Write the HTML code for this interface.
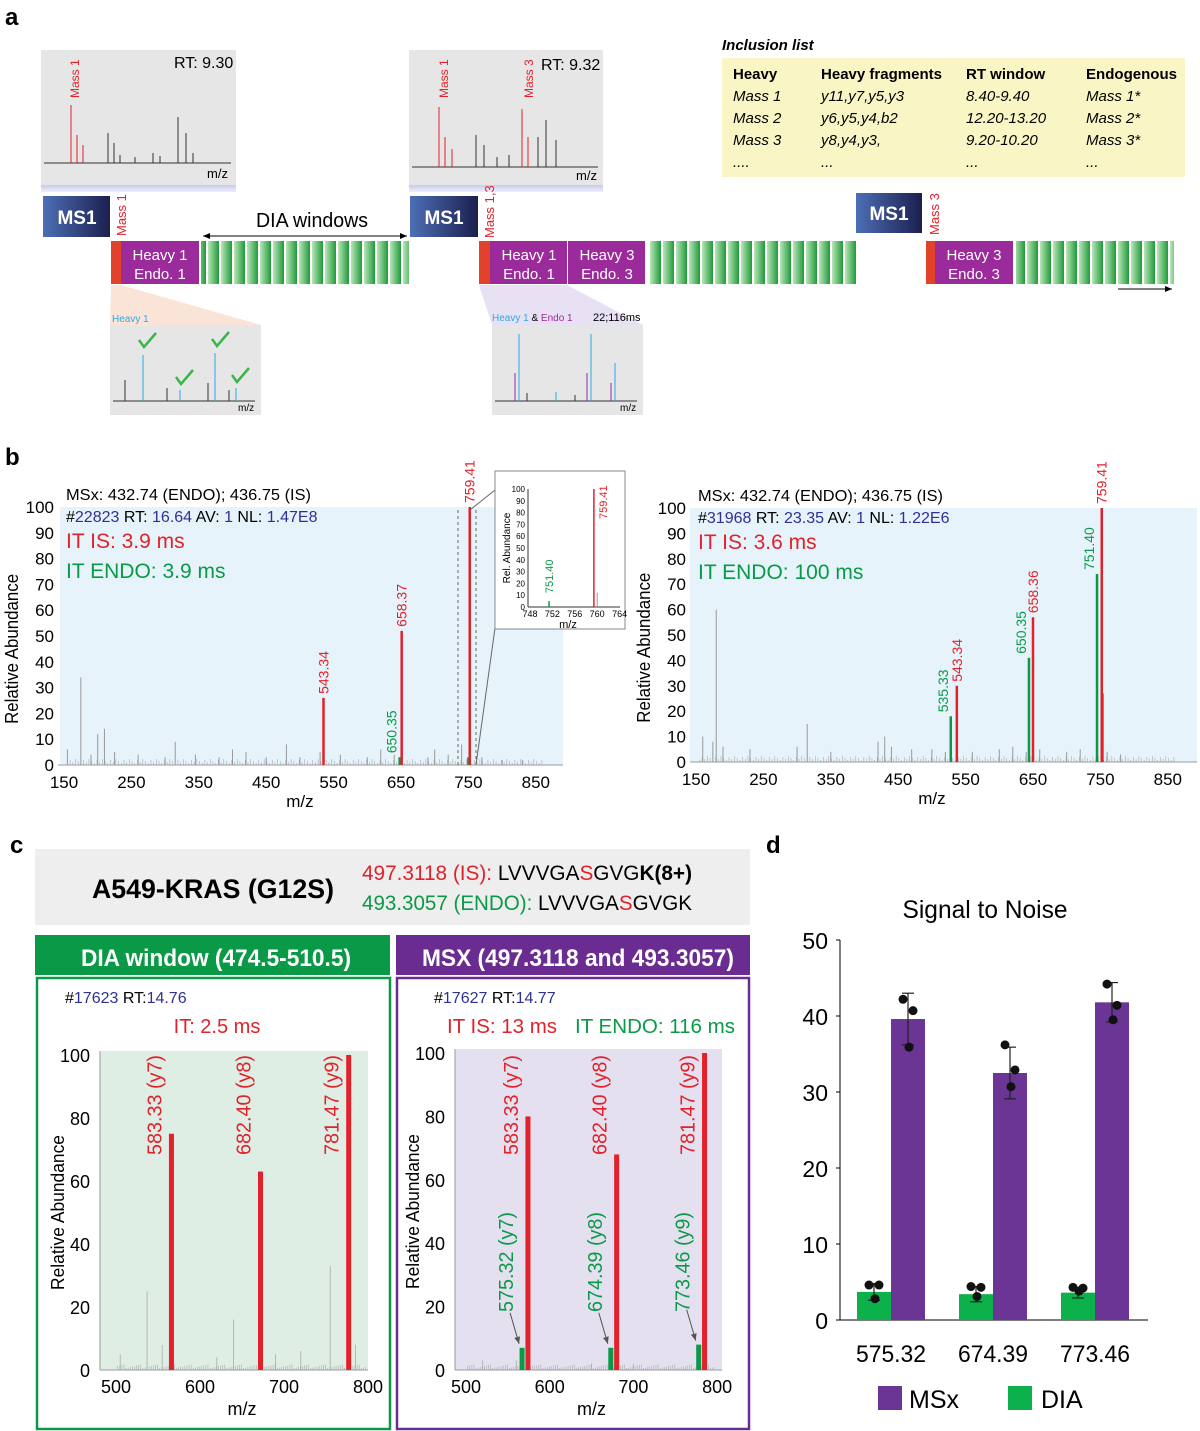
<!DOCTYPE html>
<html><head><meta charset="utf-8"><style>
body{margin:0;background:#fff}
svg{display:block;font-family:"Liberation Sans Narrow","Liberation Sans",sans-serif}
</style></head><body>
<svg id="s" width="1200" height="1431" viewBox="0 0 1200 1431" xmlns="http://www.w3.org/2000/svg">
<defs>
<linearGradient id="ms1" x1="0" x2="1"><stop offset="0" stop-color="#4d6fb5"/><stop offset="1" stop-color="#1b1f4f"/></linearGradient>
<linearGradient id="grn" x1="0" x2="1"><stop offset="0" stop-color="#b8e6b8"/><stop offset="1" stop-color="#1f9a3a"/></linearGradient>
<linearGradient id="band" x1="0" x2="0" y1="0" y2="1"><stop offset="0" stop-color="#c9c9ea"/><stop offset="1" stop-color="#eef"/></linearGradient>
<pattern id="stripes" width="13" height="44" patternUnits="userSpaceOnUse"><rect width="11" height="44" fill="url(#grn)"/></pattern>
<marker id="ah" markerWidth="8" markerHeight="8" refX="7" refY="4" orient="auto"><path d="M0,1 L7,4 L0,7 z" fill="#000"/></marker>
<marker id="ahg" markerWidth="8" markerHeight="8" refX="7" refY="4" orient="auto"><path d="M0,1 L7,4 L0,7 z" fill="#555"/></marker>
</defs>

<!-- Panel a -->
<text x="5" y="25" font-size="24" font-weight="bold">a</text>
<g>
<rect x="41" y="50" width="195" height="135" fill="#e6e6e6"/>
<text x="174" y="68" font-size="16">RT: 9.30</text>
<text transform="translate(79,98) rotate(-90)" font-size="12" fill="#e2212a">Mass 1</text>
<line x1="44" y1="163" x2="231" y2="163" stroke="#333"/>
<text x="207" y="178" font-size="13">m/z</text>
<g stroke="#333"><line x1="108" y1="163" x2="108" y2="133"/><line x1="114" y1="163" x2="114" y2="143"/><line x1="120" y1="163" x2="120" y2="155"/><line x1="135" y1="163" x2="135" y2="157"/><line x1="153" y1="163" x2="153" y2="153"/><line x1="160" y1="163" x2="160" y2="156"/><line x1="178" y1="163" x2="178" y2="117"/><line x1="186" y1="163" x2="186" y2="133"/><line x1="193" y1="163" x2="193" y2="153"/></g>
<g stroke="#e2212a"><line x1="71" y1="163" x2="71" y2="105"/><line x1="77" y1="163" x2="77" y2="135"/><line x1="83" y1="163" x2="83" y2="145"/></g>
<rect x="41" y="185" width="195" height="7" fill="url(#band)"/>
</g>
<g>
<rect x="409" y="50" width="194" height="135" fill="#e6e6e6"/>
<text x="541" y="70" font-size="16">RT: 9.32</text>
<text transform="translate(448,98) rotate(-90)" font-size="12" fill="#e2212a">Mass 1</text>
<text transform="translate(533,98) rotate(-90)" font-size="12" fill="#e2212a">Mass 3</text>
<line x1="412" y1="167" x2="598" y2="167" stroke="#333"/>
<text x="576" y="180" font-size="13">m/z</text>
<g stroke="#e2212a"><line x1="439" y1="167" x2="439" y2="107"/><line x1="445" y1="167" x2="445" y2="137"/><line x1="452" y1="167" x2="452" y2="149"/><line x1="522" y1="167" x2="522" y2="109"/><line x1="528" y1="167" x2="528" y2="137"/></g>
<g stroke="#333"><line x1="476" y1="167" x2="476" y2="135"/><line x1="484" y1="167" x2="484" y2="145"/><line x1="497" y1="167" x2="497" y2="157"/><line x1="509" y1="167" x2="509" y2="155"/><line x1="538" y1="167" x2="538" y2="137"/><line x1="546" y1="167" x2="546" y2="120"/><line x1="556" y1="167" x2="556" y2="140"/></g>
<rect x="409" y="185" width="194" height="7" fill="url(#band)"/>
</g>
<g>
<text x="722" y="50" font-size="15" font-style="italic" font-weight="bold">Inclusion list</text>
<rect x="722" y="58" width="463" height="119" fill="#faf5c4"/>
<g font-size="15" font-weight="bold"><text x="733" y="79">Heavy</text><text x="821" y="79" textLength="121" lengthAdjust="spacingAndGlyphs">Heavy fragments</text><text x="966" y="79">RT window</text><text x="1086" y="79" textLength="91" lengthAdjust="spacingAndGlyphs">Endogenous</text></g>
<g font-size="15" font-style="italic">
<text x="733" y="101">Mass 1</text><text x="821" y="101">y11,y7,y5,y3</text><text x="966" y="101">8.40-9.40</text><text x="1086" y="101">Mass 1*</text>
<text x="733" y="123">Mass 2</text><text x="821" y="123">y6,y5,y4,b2</text><text x="966" y="123">12.20-13.20</text><text x="1086" y="123">Mass 2*</text>
<text x="733" y="145">Mass 3</text><text x="821" y="145">y8,y4,y3,</text><text x="966" y="145">9.20-10.20</text><text x="1086" y="145">Mass 3*</text>
<text x="733" y="167">....</text><text x="821" y="167">...</text><text x="966" y="167">...</text><text x="1086" y="167">...</text></g>
</g>
<g>
<rect x="43" y="196" width="67" height="41" fill="url(#ms1)"/><text x="77" y="224" font-size="19" font-weight="bold" fill="#fff" text-anchor="middle">MS1</text>
<text transform="translate(126,236) rotate(-90)" font-size="13" fill="#e2212a">Mass 1</text>
<rect x="111" y="241" width="10" height="43" fill="#e2412a"/>
<rect x="121" y="241" width="78" height="43" fill="#9b2a9b"/><text x="160" y="260" font-size="15" fill="#fff" text-anchor="middle">Heavy 1</text><text x="160" y="279" font-size="15" fill="#fff" text-anchor="middle">Endo. 1</text>
<rect x="201" y="241" width="208" height="43" fill="url(#stripes)"/>
<text x="312" y="227" font-size="20" text-anchor="middle" textLength="112" lengthAdjust="spacingAndGlyphs">DIA windows</text>
<line x1="205" y1="236" x2="407" y2="236" stroke="#000" marker-end="url(#ah)"/><line x1="405" y1="236" x2="203" y2="236" stroke="#000" marker-end="url(#ah)"/>
<rect x="410" y="196" width="68" height="41" fill="url(#ms1)"/><text x="444" y="224" font-size="19" font-weight="bold" fill="#fff" text-anchor="middle">MS1</text>
<text transform="translate(494,238) rotate(-90)" font-size="13" fill="#e2212a">Mass 1,3</text>
<rect x="479" y="241" width="11" height="43" fill="#e2412a"/>
<rect x="490" y="241" width="77" height="43" fill="#9b2a9b"/><text x="529" y="260" font-size="15" fill="#fff" text-anchor="middle">Heavy 1</text><text x="529" y="279" font-size="15" fill="#fff" text-anchor="middle">Endo. 1</text>
<rect x="568" y="241" width="77" height="43" fill="#9b2a9b"/><text x="607" y="260" font-size="15" fill="#fff" text-anchor="middle">Heavy 3</text><text x="607" y="279" font-size="15" fill="#fff" text-anchor="middle">Endo. 3</text>
<rect x="648" y="241" width="208" height="43" fill="url(#stripes)"/>
<rect x="856" y="193" width="66" height="40" fill="url(#ms1)"/><text x="889" y="220" font-size="19" font-weight="bold" fill="#fff" text-anchor="middle">MS1</text>
<text transform="translate(939,235) rotate(-90)" font-size="13" fill="#e2212a">Mass 3</text>
<rect x="926" y="241" width="9" height="43" fill="#e2412a"/>
<rect x="935" y="241" width="78" height="43" fill="#9b2a9b"/><text x="974" y="260" font-size="15" fill="#fff" text-anchor="middle">Heavy 3</text><text x="974" y="279" font-size="15" fill="#fff" text-anchor="middle">Endo. 3</text>
<rect x="1016" y="241" width="158" height="43" fill="url(#stripes)"/>
<line x1="1118" y1="289" x2="1172" y2="289" stroke="#000" marker-end="url(#ah)"/>
<polygon points="111,285 121,285 261,325 110,325" fill="#f8d8c8" opacity="0.7"/>
<polygon points="479,285 567,285 643,325 492,325" fill="#ddd4ee" opacity="0.7"/>
</g>
<g>
<text x="112" y="322" font-size="10" fill="#29abe2">Heavy 1</text>
<rect x="110" y="325" width="151" height="90" fill="#e6e6e6"/>
<line x1="113" y1="401" x2="255" y2="401" stroke="#333"/><text x="238" y="411" font-size="10">m/z</text>
<g stroke="#333"><line x1="125" y1="401" x2="125" y2="380"/><line x1="167" y1="401" x2="167" y2="388"/><line x1="208" y1="401" x2="208" y2="383"/><line x1="229" y1="401" x2="229" y2="390"/></g>
<g stroke="#29abe2"><line x1="143" y1="401" x2="143" y2="355"/><line x1="180" y1="401" x2="180" y2="390"/><line x1="215" y1="401" x2="215" y2="353"/><line x1="236" y1="401" x2="236" y2="388"/></g>
<g stroke="#39b54a" stroke-width="2.5" fill="none"><path d="M139,340 l5,7 l12,-14"/><path d="M176,377 l5,7 l12,-14"/><path d="M212,339 l5,7 l12,-14"/><path d="M232,375 l5,7 l12,-14"/></g>
</g>
<g>
<text x="492" y="321" font-size="10"><tspan fill="#29abe2">Heavy 1</tspan> &amp; <tspan fill="#9b2a9b">Endo 1</tspan></text>
<text x="593" y="321" font-size="11">22;116ms</text>
<rect x="492" y="325" width="151" height="90" fill="#e6e6e6"/>
<line x1="495" y1="401" x2="637" y2="401" stroke="#333"/><text x="620" y="411" font-size="10">m/z</text>
<g stroke="#29abe2"><line x1="519" y1="401" x2="519" y2="334"/><line x1="591" y1="401" x2="591" y2="334"/><line x1="615" y1="401" x2="615" y2="363"/><line x1="556" y1="401" x2="556" y2="392"/></g>
<g stroke="#9b2a9b"><line x1="515" y1="401" x2="515" y2="373"/><line x1="587" y1="401" x2="587" y2="373"/><line x1="611" y1="401" x2="611" y2="383"/></g>
<g stroke="#333"><line x1="527" y1="401" x2="527" y2="393"/><line x1="575" y1="401" x2="575" y2="395"/></g>
</g>

<!-- Panel b -->
<text x="5" y="465" font-size="24" font-weight="bold">b</text>
<g id="b1"></g>
<g id="b2"></g>
<g>
<line x1="458" y1="510" x2="458" y2="765" stroke="#666" stroke-dasharray="3,3"/><line x1="476" y1="510" x2="476" y2="765" stroke="#666" stroke-dasharray="3,3"/>
<line x1="470" y1="510" x2="495" y2="490" stroke="#666"/><line x1="476" y1="765" x2="495" y2="628" stroke="#666"/>
<rect x="495" y="471" width="130" height="158" fill="#fff" stroke="#888"/>
<g id="zin"></g>
</g>

<!-- Panel c -->
<text x="10" y="853" font-size="24" font-weight="bold">c</text>
<g>
<rect x="35" y="849" width="715" height="76" fill="#eeeeee"/>
<text x="213" y="898" font-size="27" font-weight="bold" text-anchor="middle" textLength="242" lengthAdjust="spacingAndGlyphs">A549-KRAS (G12S)</text>
<text x="362" y="880" font-size="21" textLength="330" lengthAdjust="spacingAndGlyphs"><tspan fill="#e2212a">497.3118 (IS): </tspan>LVVVGA<tspan fill="#e2212a">S</tspan>GVG<tspan font-weight="bold">K(8+)</tspan></text>
<text x="362" y="910" font-size="21" textLength="330" lengthAdjust="spacingAndGlyphs"><tspan fill="#0a9a47">493.3057 (ENDO): </tspan>LVVVGA<tspan fill="#e2212a">S</tspan>GVGK</text>
</g>
<rect x="35" y="935" width="355" height="40" fill="#0a9a47"/>
<text x="216" y="966" font-size="24" font-weight="bold" fill="#fff" text-anchor="middle" textLength="270" lengthAdjust="spacingAndGlyphs">DIA window (474.5-510.5)</text>
<rect x="396" y="935" width="354" height="40" fill="#6a2c91"/>
<text x="578" y="966" font-size="24" font-weight="bold" fill="#fff" text-anchor="middle" textLength="312" lengthAdjust="spacingAndGlyphs">MSX (497.3118 and 493.3057)</text>
<rect x="37" y="978" width="353" height="451" fill="none" stroke="#0a9a47" stroke-width="2.5"/>
<rect x="397" y="978" width="352" height="451" fill="none" stroke="#6a2c91" stroke-width="2.5"/>
<g id="c1"></g>
<g id="c2"></g>

<!-- Panel d -->
<text x="766" y="853" font-size="24" font-weight="bold">d</text>
<g id="d"></g>
</svg>
<script>
const NS='http://www.w3.org/2000/svg';
function el(p,t,a,txt){const e=document.createElementNS(NS,t);for(const k in a)e.setAttribute(k,a[k]);if(txt!==undefined)e.textContent=txt;p.appendChild(e);return e;}

// Panel b data
const bLeftNoiseMz=[155,175,190,200,210,225,260,300,315,345,380,400,420,450,480,500,530,560,600,620,640,690,700,720,740,770,800,830];
const bLeftNoiseI=[6,34,4,12,14,5,4,3,9,4,3,6,5,3,8,3,5,4,3,6,4,3,6,4,8,3,2,2];
const bLeftRedMz=[535,651,752];
const bLeftRedI=[26,52,100];
const bLeftRedLbl=['543.34','658.37','759.41'];
const bLeftGrnMz=[648,750];
const bLeftGrnI=[3,3];
const bLeftGrnLbl=['650.35',''];
const bRightNoiseMz=[160,175,180,190,230,300,315,350,420,430,440,470,500,520,560,600,620,640,660,700,720,760,780];
const bRightNoiseI=[10,8,60,6,5,6,15,4,8,10,6,5,5,4,4,5,6,4,5,4,5,4,3];
const bRightRedMz=[537,650,752,753];
const bRightRedI=[30,57,100,27];
const bRightRedLbl=['543.34','658.36','759.41',''];
const bRightGrnMz=[528,644,745];
const bRightGrnI=[18,41,74];
const bRightGrnLbl=['535.33','650.35','751.40'];
const bTicksX=[150,250,350,450,550,650,750,850];
const bTicksY=[0,10,20,30,40,50,60,70,80,90,100];

function specB(g,o){
  const X=m=>o.x0+(m-150)*o.sx, Y=v=>o.y0-v*o.sy;
  el(g,'rect',{x:o.bgx,y:Y(100),width:o.bgw,height:o.y0-Y(100),fill:'#e6f3fa'});
  el(g,'line',{x1:o.x0-6,y1:o.y0,x2:o.bgx+o.bgw,y2:o.y0,stroke:'#999'});
  bTicksY.forEach(v=>{const t=el(g,'text',{x:o.x0-10,y:Y(v)+6,'font-size':17,'text-anchor':'end'},v);});
  bTicksX.forEach(v=>{const t=el(g,'text',{x:X(v),y:o.y0+23,'font-size':17,'text-anchor':'middle'},v);});
  el(g,'text',{x:X(500),y:o.y0+42,'font-size':17,'text-anchor':'middle'},'m/z');
  el(g,'text',{transform:`translate(${o.x0-46},${Y(45)}) rotate(-90)`,'font-size':18,'text-anchor':'middle','textLength':150,'lengthAdjust':'spacingAndGlyphs'},'Relative Abundance');
  for(let m=155;m<860;m+=4){el(g,'line',{x1:X(m),y1:o.y0,x2:X(m),y2:o.y0-2-((m*7)%5),stroke:'#aaa','stroke-width':0.6});}
  o.nm.forEach((m,i)=>{const l=el(g,'line',{x1:X(m),y1:o.y0,x2:X(m),y2:Y(o.ni[i]),stroke:'#999','stroke-width':1});});
  o.gm.forEach((m,i)=>{const l=el(g,'line',{x1:X(m),y1:o.y0,x2:X(m),y2:Y(o.gi[i]),stroke:'#0a9a47','stroke-width':2.5});
    if(o.gl[i])el(g,'text',{transform:`translate(${X(m)-3},${Y(o.gi[i])-4}) rotate(-90)`,'font-size':14,fill:'#0a9a47'},o.gl[i]);});
  o.rm.forEach((m,i)=>{const l=el(g,'line',{x1:X(m),y1:o.y0,x2:X(m),y2:Y(o.ri[i]),stroke:'#e2212a','stroke-width':2.5});
    if(o.rl[i])el(g,'text',{transform:`translate(${X(m)+5},${Y(o.ri[i])-4}) rotate(-90)`,'font-size':14,fill:'#e2212a'},o.rl[i]);});
  el(g,'text',{x:o.x0+2,y:Y(100)-7,'font-size':16,'textLength':245,'lengthAdjust':'spacingAndGlyphs'},'MSx: 432.74 (ENDO); 436.75 (IS)');
  const t=el(g,'text',{x:o.x0+2,y:Y(100)+15,'font-size':16});
  t.innerHTML=`#<tspan fill="#2e3192">${o.scan}</tspan> RT: <tspan fill="#2e3192">${o.rt}</tspan>  AV: <tspan fill="#2e3192">1</tspan>   NL: <tspan fill="#2e3192">${o.nl}</tspan>`;
  el(g,'text',{x:o.x0+2,y:Y(100)+41,'font-size':21,fill:'#e2212a'},'IT IS: '+o.itis);
  el(g,'text',{x:o.x0+2,y:Y(100)+71,'font-size':21,fill:'#0a9a47'},'IT ENDO: '+o.itendo);
}
specB(document.getElementById('b1'),{x0:64,sx:0.674,y0:765,sy:2.58,bgx:60,bgw:503,nm:bLeftNoiseMz,ni:bLeftNoiseI,rm:bLeftRedMz,ri:bLeftRedI,rl:bLeftRedLbl,gm:bLeftGrnMz,gi:bLeftGrnI,gl:bLeftGrnLbl,scan:'22823',rt:'16.64',nl:'1.47E8',itis:'3.9 ms',itendo:'3.9 ms'});
specB(document.getElementById('b2'),{x0:696,sx:0.674,y0:762,sy:2.54,bgx:690,bgw:507,nm:bRightNoiseMz,ni:bRightNoiseI,rm:bRightRedMz,ri:bRightRedI,rl:bRightRedLbl,gm:bRightGrnMz,gi:bRightGrnI,gl:bRightGrnLbl,scan:'31968',rt:'23.35',nl:'1.22E6',itis:'3.6 ms',itendo:'100 ms'});

// zoom inset
const zinMz=[751.4,759.41,760];
const zinI=[5,100,12];
const zinTicks=[748,752,756,760,764];
(function(){const g=document.getElementById('zin');const X=m=>530+(m-748)*5.6,Y=v=>607-v*1.18;
 el(g,'line',{x1:528,y1:607,x2:620,y2:607,stroke:'#333'});el(g,'line',{x1:528,y1:607,x2:528,y2:489,stroke:'#333'});
 [0,10,20,30,40,50,60,70,80,90,100].forEach(v=>el(g,'text',{x:525,y:Y(v)+3,'font-size':8,'text-anchor':'end'},v));
 zinTicks.forEach(v=>el(g,'text',{x:X(v),y:617,'font-size':9,'text-anchor':'middle'},v));
 el(g,'text',{x:568,y:628,'font-size':11,'text-anchor':'middle'},'m/z');
 el(g,'text',{transform:'translate(510,548) rotate(-90)','font-size':10,'text-anchor':'middle'},'Rel. Abundance');
 el(g,'line',{x1:X(zinMz[0]),y1:607,x2:X(zinMz[0]),y2:Y(zinI[0]),stroke:'#0a9a47','stroke-width':1.5});
 el(g,'text',{transform:`translate(${X(zinMz[0])+4},${Y(zinI[0])-8}) rotate(-90)`,'font-size':11,fill:'#0a9a47'},'751.40');
 el(g,'line',{x1:X(zinMz[1]),y1:607,x2:X(zinMz[1]),y2:Y(zinI[1]),stroke:'#e2212a','stroke-width':1.5});
 el(g,'text',{transform:`translate(${X(zinMz[1])+13},${Y(zinI[1])+30}) rotate(-90)`,'font-size':11,fill:'#e2212a'},'759.41');
 el(g,'line',{x1:X(zinMz[2]),y1:607,x2:X(zinMz[2]),y2:Y(zinI[2]),stroke:'#999'});
})();

// Panel c
const cTicksX=[500,600,700,800];
const cTicksY=[0,20,40,60,80,100];
const cDiaRedMz=[566,672,777];
const cDiaRedI=[75,63,100];
const cDiaRedLbl=['583.33 (y7)','682.40 (y8)','781.47 (y9)'];
const cDiaNoiseMz=[505,537,555,620,640,690,720,755,785];
const cDiaNoiseI=[5,25,8,4,16,5,6,33,8];
const cMsxRedMz=[574,680,785];
const cMsxRedI=[80,68,100];
const cMsxRedLbl=['583.33 (y7)','682.40 (y8)','781.47 (y9)'];
const cMsxGrnMz=[567,673,778];
const cMsxGrnI=[7,7,8];
const cMsxGrnLbl=['575.32 (y7)','674.39 (y8)','773.46 (y9)'];
const cMsxNoiseMz=[520,560,650,700];
const cMsxNoiseI=[3,3,2,2];
function specC(g,o){
 const X=m=>o.x0+(m-500)*o.sx, Y=v=>o.y0-v*o.sy;
 el(g,'rect',{x:o.bgx,y:Y(100)-4,width:o.bgw,height:o.y0-Y(100)+4,fill:o.bg});
 el(g,'line',{x1:o.bgx,y1:o.y0,x2:o.bgx+o.bgw,y2:o.y0,stroke:'#999'});
 el(g,'line',{x1:o.bgx,y1:o.y0,x2:o.bgx,y2:Y(100)-4,stroke:'#999'});
 cTicksY.forEach(v=>el(g,'text',{x:o.bgx-10,y:Y(v)+7,'font-size':18,'text-anchor':'end'},v));
 cTicksX.forEach(v=>el(g,'text',{x:X(v),y:o.y0+23,'font-size':18,'text-anchor':'middle'},v));
 el(g,'text',{x:X(650),y:o.y0+45,'font-size':18,'text-anchor':'middle'},'m/z');
 el(g,'text',{transform:`translate(${o.bgx-36},${Y(50)}) rotate(-90)`,'font-size':18,'text-anchor':'middle','textLength':155,'lengthAdjust':'spacingAndGlyphs'},'Relative Abundance');
 for(let m=502;m<798;m+=2.5){el(g,'line',{x1:X(m),y1:o.y0,x2:X(m),y2:o.y0-2-((m*13)%4),stroke:'#aaa','stroke-width':0.6});}
 o.nm.forEach((m,i)=>el(g,'line',{x1:X(m),y1:o.y0,x2:X(m),y2:Y(o.ni[i]),stroke:'#aaa','stroke-width':0.8}));
 o.rm.forEach((m,i)=>{const r=el(g,'rect',{x:X(m)-2.5,y:Y(o.ri[i]),width:5,height:o.y0-Y(o.ri[i]),fill:'#e2212a'});
  el(g,'text',{transform:`translate(${X(m)-10},1105) rotate(-90)`,'font-size':20,fill:'#e2212a','text-anchor':'middle','textLength':100,'lengthAdjust':'spacingAndGlyphs'},o.rl[i]);});
 (o.gm||[]).forEach((m,i)=>{const r=el(g,'rect',{x:X(m)-2.5,y:Y(o.gi[i]),width:5,height:o.y0-Y(o.gi[i]),fill:'#0a9a47'});
  el(g,'text',{transform:`translate(${X(m)-9},1262) rotate(-90)`,'font-size':20,fill:'#0a9a47','text-anchor':'middle','textLength':100,'lengthAdjust':'spacingAndGlyphs'},o.gl[i]);
  el(g,'line',{x1:X(m)-12,y1:Y(o.gi[i])-35,x2:X(m)-3,y2:Y(o.gi[i])-4,stroke:'#555','marker-end':'url(#ahg)'});});
}
const g1=document.getElementById('c1'),g2=document.getElementById('c2');
specC(g1,{x0:116,sx:0.84,y0:1370,sy:3.15,bgx:100,bgw:268,bg:'#dfeee4',nm:cDiaNoiseMz,ni:cDiaNoiseI,rm:cDiaRedMz,ri:cDiaRedI,rl:cDiaRedLbl});
specC(g2,{x0:466,sx:0.837,y0:1370,sy:3.17,bgx:455,bgw:267,bg:'#e4e0ef',nm:cMsxNoiseMz,ni:cMsxNoiseI,rm:cMsxRedMz,ri:cMsxRedI,rl:cMsxRedLbl,gm:cMsxGrnMz,gi:cMsxGrnI,gl:cMsxGrnLbl});
el(g1,'text',{x:65,y:1003,'font-size':16}).innerHTML='#<tspan fill="#2e3192">17623</tspan>   RT:<tspan fill="#2e3192">14.76</tspan>';
el(g1,'text',{x:217,y:1033,'font-size':20,fill:'#e2212a','text-anchor':'middle'},'IT: 2.5 ms');
el(g2,'text',{x:434,y:1003,'font-size':16}).innerHTML='#<tspan fill="#2e3192">17627</tspan>      RT:<tspan fill="#2e3192">14.77</tspan>';
el(g2,'text',{x:447,y:1033,'font-size':20,fill:'#e2212a','textLength':110,'lengthAdjust':'spacingAndGlyphs'},'IT IS: 13 ms');
el(g2,'text',{x:575,y:1033,'font-size':20,fill:'#0a9a47','textLength':160,'lengthAdjust':'spacingAndGlyphs'},'IT ENDO: 116 ms');

// Panel d
const dCats=['575.32','674.39','773.46'];
const dMsx=[39.6,32.5,41.8];
const dDia=[3.7,3.4,3.6];
const dMsxErr=[3.4,3.4,2.6];
const dDiaErr=[1.1,1.0,0.7];
const dMsxPts=[[42.2,40.7,35.9],[36.2,32.9,30.7],[44.2,41.4,39.5]];
const dDiaPts=[[4.6,4.6,2.8],[4.4,4.3,3.1],[4.3,4.2,3.8]];
const dTicks=[0,10,20,30,40,50];
(function(){const g=document.getElementById('d');const Y=v=>1320-v*7.6;const cx=i=>891+i*102;
 el(g,'text',{x:985,y:918,'font-size':25,'text-anchor':'middle','textLength':165,'lengthAdjust':'spacingAndGlyphs'},'Signal to Noise');
 el(g,'line',{x1:840,y1:Y(50),x2:840,y2:1320,stroke:'#000'});
 el(g,'line',{x1:840,y1:1320,x2:1148,y2:1320,stroke:'#000'});
 dTicks.forEach(v=>{el(g,'text',{x:828,y:Y(v)+9,'font-size':23,'text-anchor':'end'},v);el(g,'line',{x1:836,y1:Y(v),x2:840,y2:Y(v),stroke:'#000'});});
 dCats.forEach((c,i)=>{
  const rd=el(g,'rect',{x:cx(i)-34,y:Y(dDia[i]),width:34,height:1320-Y(dDia[i]),fill:'#0db14b'});
  const rm=el(g,'rect',{x:cx(i),y:Y(dMsx[i]),width:34,height:1320-Y(dMsx[i]),fill:'#6a3595'});
  [[cx(i)+17,dMsx[i],dMsxErr[i],dMsxPts[i]],[cx(i)-17,dDia[i],dDiaErr[i],dDiaPts[i]]].forEach(([x,v,e,p])=>{
   el(g,'line',{x1:x,y1:Y(v+e),x2:x,y2:Y(v-e),stroke:'#222','stroke-width':1.2});
   el(g,'line',{x1:x-6,y1:Y(v+e),x2:x+6,y2:Y(v+e),stroke:'#222','stroke-width':1.2});
   el(g,'line',{x1:x-6,y1:Y(v-e),x2:x+6,y2:Y(v-e),stroke:'#222','stroke-width':1.2});
   p.forEach((pv,k)=>el(g,'circle',{cx:x+[-5,5,1][k],cy:Y(pv),r:4.5,fill:'#111'}));});
  el(g,'text',{x:cx(i),y:1362,'font-size':24,'text-anchor':'middle','textLength':70,'lengthAdjust':'spacingAndGlyphs'},c);
 });
 el(g,'rect',{x:878,y:1386,width:24,height:24,fill:'#6a3595'});el(g,'text',{x:909,y:1408,'font-size':25},'MSx');
 el(g,'rect',{x:1008,y:1386,width:24,height:24,fill:'#0db14b'});el(g,'text',{x:1041,y:1408,'font-size':25},'DIA');
})();
</script>
</body></html>
